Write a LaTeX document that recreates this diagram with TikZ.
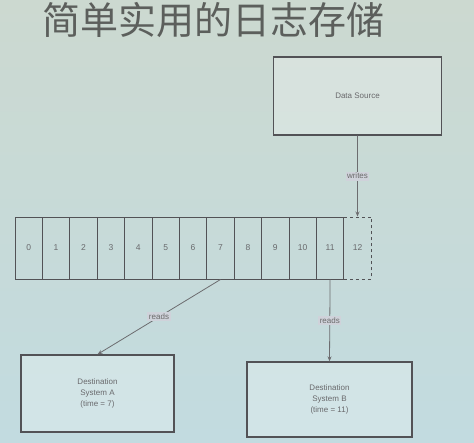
\documentclass[tikz,border=0pt]{standalone}
\usepackage{fontspec}
\setmainfont{Liberation Sans}
\newfontfamily\cjk{Noto Sans CJK SC}
\usetikzlibrary{arrows.meta}

\definecolor{bgtop}{RGB}{204,217,208}
\definecolor{bgmid}{RGB}{208,208,222}
\definecolor{bgbot}{RGB}{194,219,224}
\definecolor{inkgray}{RGB}{82,82,86}
\definecolor{textgray}{RGB}{105,105,108}
\definecolor{titlegray}{RGB}{92,95,92}
\definecolor{labelbg}{RGB}{207,210,218}

\tikzset{
  box/.style={draw=inkgray, line width=1.3pt, fill=white, fill opacity=0.25,
    text opacity=1, text=textgray, font=\fontsize{8}{11}\selectfont,
    align=center, inner sep=0pt},
  cell/.style={draw=inkgray, line width=1pt, minimum width=27.4pt,
    minimum height=62pt, inner sep=0pt, text=textgray,
    font=\fontsize{8.5}{10}\selectfont},
  newcell/.style={cell, dashed},
  flow/.style={draw=inkgray!85, line width=0.8pt, -{Stealth[length=5pt,width=4pt]}},
  lbl/.style={fill=labelbg, text=black!58, font=\fontsize{8}{10}\selectfont, inner sep=1.5pt}
}

\begin{document}
\begin{tikzpicture}[x=1pt,y=-1pt]
    % Slide background
    \useasboundingbox (0,0) rectangle (474,442);
    \clip (0,0) rectangle (474,442);
    \shade[top color=bgtop, middle color=bgmid, bottom color=bgbot] (0,0) rectangle (474,442);

    % Title
    \node[anchor=base west, inner sep=0pt, text=titlegray,
      font=\cjk\fontsize{38}{40}\selectfont] (title) at (42,34) {简单实用的日志存储};

    % Writer
    \node[box, minimum width=168pt, minimum height=78pt] (src) at (357.5,96) {Data Source};

    % Log entries
    \foreach \i in {0,...,11}
        \node[cell] (c\i) at ({28.7+27.4*\i},248) {\i};
    \node[newcell] (c12) at ({28.7+27.4*12},248) {12};

    % Readers
    \node[box, minimum width=153pt, minimum height=77pt] (destA) at (97.5,393.5)
        {Destination\\System A\\(time = 7)};
    \node[box, minimum width=165pt, minimum height=75pt] (destB) at (329.5,399.5)
        {Destination\\System B\\(time = 11)};

    % Connections
    \draw[flow] (src.south) -- node[lbl] {writes} (c12.north);
    \draw[flow] (c7.south) -- node[lbl] {reads} (destA.north);
    \draw[flow] (c11.south) -- node[lbl] {reads} (destB.north);
\end{tikzpicture}
\end{document}
